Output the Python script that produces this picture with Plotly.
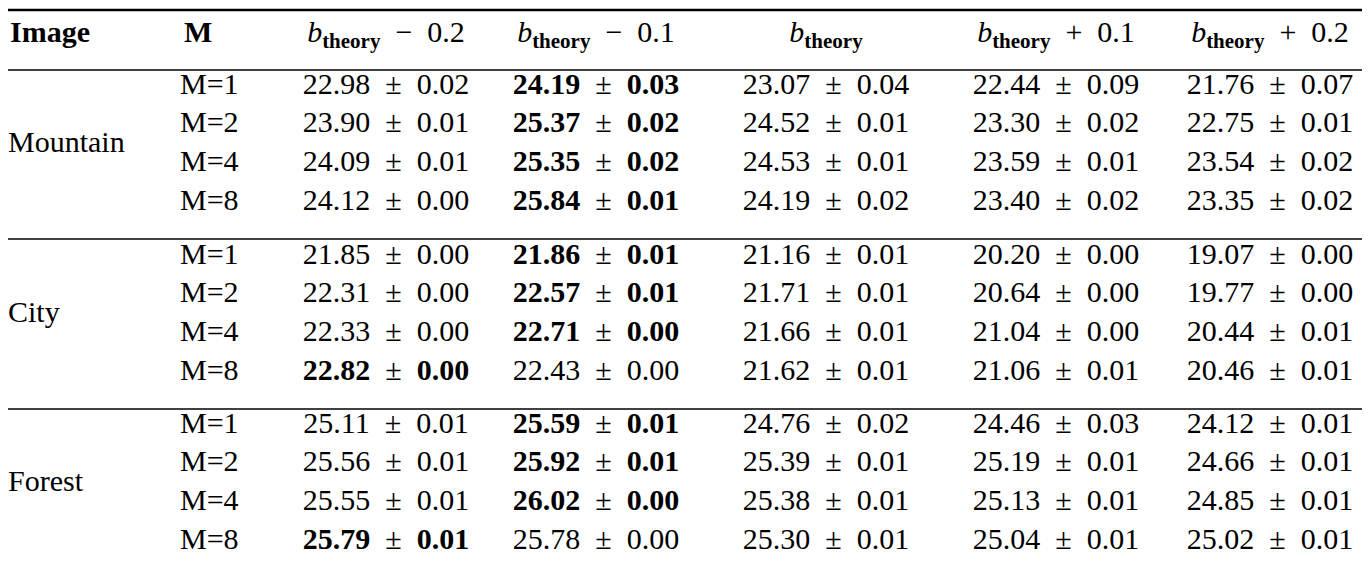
import plotly.graph_objects as go

images = ["Mountain", "City", "Forest"]
ms = ["M=1", "M=2", "M=4", "M=8"]
headers = ["<i>b</i><sub><b>theory</b></sub>\u2002−\u20020.2", "<i>b</i><sub><b>theory</b></sub>\u2002−\u20020.1",
           "<i>b</i><sub><b>theory</b></sub>", "<i>b</i><sub><b>theory</b></sub>\u2002+\u20020.1",
           "<i>b</i><sub><b>theory</b></sub>\u2002+\u20020.2"]
means = [
    [[22.98, 24.19, 23.07, 22.44, 21.76], [23.90, 25.37, 24.52, 23.30, 22.75],
     [24.09, 25.35, 24.53, 23.59, 23.54], [24.12, 25.84, 24.19, 23.40, 23.35]],
    [[21.85, 21.86, 21.16, 20.20, 19.07], [22.31, 22.57, 21.71, 20.64, 19.77],
     [22.33, 22.71, 21.66, 21.04, 20.44], [22.82, 22.43, 21.62, 21.06, 20.46]],
    [[25.11, 25.59, 24.76, 24.46, 24.12], [25.56, 25.92, 25.39, 25.19, 24.66],
     [25.55, 26.02, 25.38, 25.13, 24.85], [25.79, 25.78, 25.30, 25.04, 25.02]],
]
stds = [
    [[0.02, 0.03, 0.04, 0.09, 0.07], [0.01, 0.02, 0.01, 0.02, 0.01],
     [0.01, 0.02, 0.01, 0.01, 0.02], [0.00, 0.01, 0.02, 0.02, 0.02]],
    [[0.00, 0.01, 0.01, 0.00, 0.00], [0.00, 0.01, 0.01, 0.00, 0.00],
     [0.00, 0.00, 0.01, 0.00, 0.01], [0.00, 0.00, 0.01, 0.01, 0.01]],
    [[0.01, 0.01, 0.02, 0.03, 0.01], [0.01, 0.01, 0.01, 0.01, 0.01],
     [0.01, 0.00, 0.01, 0.01, 0.01], [0.01, 0.00, 0.01, 0.01, 0.01]],
]
best = [[1, 1, 1, 1], [1, 1, 1, 0], [1, 1, 1, 0]]

FONT = "Liberation Serif"
FS = 30
col_x = [378, 588, 818, 1048, 1262]
row_y0 = [78, 248, 417]
row_dy = 38.7
PM = "\u2002±\u2002"

fig = go.Figure()
hx, hy, ht = [2, 176] + col_x, [26] * 7, ["<b>Image</b>", "<b>M</b>"] + headers
fig.add_trace(go.Scatter(x=hx[:2], y=hy[:2], text=ht[:2], mode="text",
                         textposition="middle right", textfont=dict(family=FONT, size=FS, color="black")))
fig.add_trace(go.Scatter(x=hx[2:], y=hy[2:], text=ht[2:], mode="text",
                         textposition="middle center", textfont=dict(family=FONT, size=FS, color="black")))

lx, ly, lt, cx, cy, ct = [], [], [], [], [], []
for g, name in enumerate(images):
    lx.append(0); ly.append(row_y0[g] + 1.5 * row_dy); lt.append(name)
    for r, m in enumerate(ms):
        y = row_y0[g] + r * row_dy
        lx.append(172); ly.append(y); lt.append(m)
        for c in range(5):
            s = f"{means[g][r][c]:.2f}{PM}{stds[g][r][c]:.2f}"
            if c == best[g][r]:
                s = f"<b>{means[g][r][c]:.2f}</b>{PM}<b>{stds[g][r][c]:.2f}</b>"
            cx.append(col_x[c]); cy.append(y); ct.append(s)
fig.add_trace(go.Scatter(x=lx, y=ly, text=lt, mode="text", textposition="middle right",
                         textfont=dict(family=FONT, size=FS, color="black")))
fig.add_trace(go.Scatter(x=cx, y=cy, text=ct, mode="text", textposition="middle center",
                         textfont=dict(family=FONT, size=FS, color="black")))

for y, w in [(2, 2.5), (62, 1.5), (231, 1.5), (401, 1.5), (566, 2.5)]:
    fig.add_shape(type="line", x0=0, x1=1370, y0=y, y1=y, xref="x", yref="y", layer="above",
                  line=dict(color="black", width=w))

fig.update_layout(width=1370, height=569, margin=dict(l=0, r=0, t=0, b=0),
                  plot_bgcolor="white", paper_bgcolor="white", showlegend=False,
                  xaxis=dict(range=[0, 1370], visible=False),
                  yaxis=dict(range=[569, 0], visible=False))
fig.write_html("out.html")
